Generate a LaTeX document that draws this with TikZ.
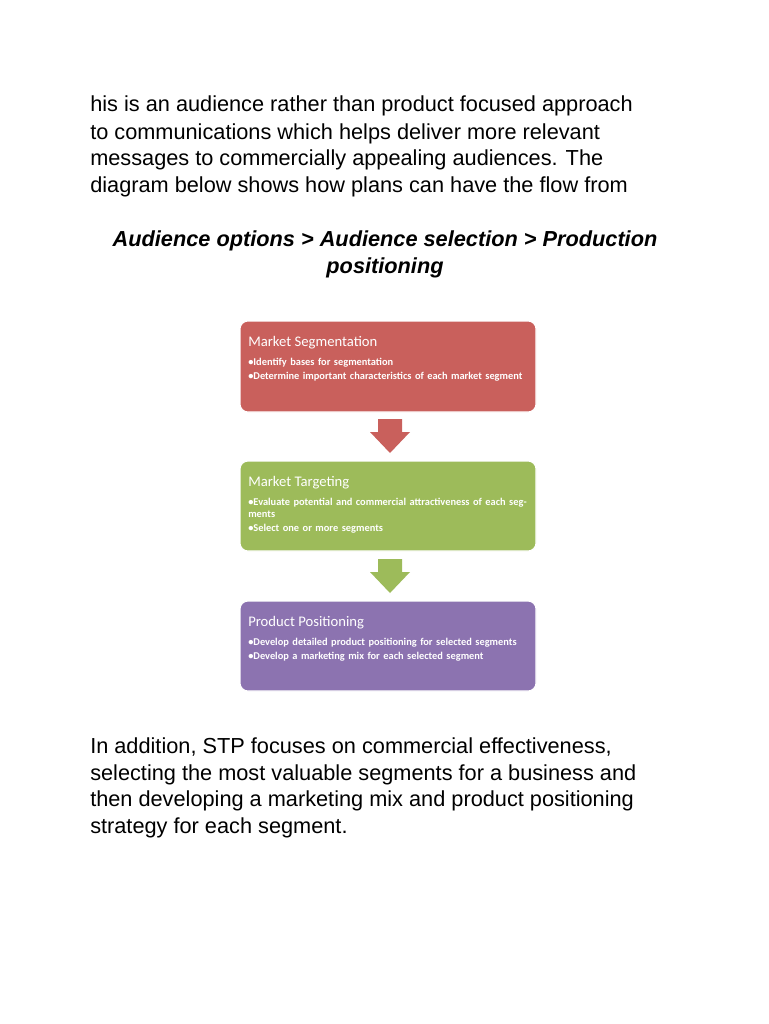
\documentclass[tikz,border=0pt]{standalone}
\usepackage{fontspec}
\setmainfont{Liberation Sans}
\newfontfamily\calfont{Carlito}
\definecolor{segred}{HTML}{C9605C}
\definecolor{tgtgreen}{HTML}{9DBB5A}
\definecolor{pospurple}{HTML}{8C73B0}
\begin{document}
\begin{tikzpicture}[x=0.75pt,y=-0.75pt,
  para/.style={anchor=base west,inner sep=0,font=\fontsize{16.3}{20}\selectfont},
  head/.style={anchor=base,inner sep=0,font=\fontsize{16.3}{20}\selectfont\bfseries\itshape},
  box/.style={rounded corners=6pt,draw=white,line width=0.8pt},
  btitle/.style={anchor=base west,inner sep=0,text=white,font=\calfont\fontsize{11}{13}\selectfont},
  bitem/.style={anchor=north west,inner sep=0,text=white,align=left,text width=215pt,font=\calfont\bfseries\fontsize{7.8}{9.2}\selectfont}]
\useasboundingbox[fill=white] (0,0) rectangle (768,1024);
\node[para] (p1) at (90,112) {his is an audience rather than product focused approach};
\node[para] (p2) at (90,139) {to communications which helps deliver more relevant};
\node[para] (p3) at (90,165) {messages to commercially appealing audiences. The};
\node[para] (p4) at (90,192) {diagram below shows how plans can have the flow from};
\node[head] (h1) at (385,246) {Audience options > Audience selection > Production};
\node[head] (h2) at (385,273) {positioning};
% boxes
\fill[box,fill=segred] (240,321) rectangle (536,412);
\fill[box,fill=tgtgreen] (240,461) rectangle (536,551);
\fill[box,fill=pospurple] (240,601) rectangle (536,691);
\node[btitle] (t1) at (248,346) {Market Segmentation};
\node[bitem] (b1) at (248,358) {•Identify bases for segmentation\\[1pt]•Determine important characteristics of each market segment};
\node[btitle] (t2) at (248,486) {Market Targeting};
\node[bitem] (b2) at (248,498) {•Evaluate potential and commercial attractiveness of each segments\\[1pt]•Select one or more segments};
\node[btitle] (t3) at (248,626) {Product Positioning};
\node[bitem] (b3) at (248,638) {•Develop detailed product positioning for selected segments\\[1pt]•Develop a marketing mix for each selected segment};
% arrows
\fill[segred] (378,419) -- (402,419) -- (402,432) -- (410,432) -- (390,453) -- (370,432) -- (378,432) -- cycle;
\fill[tgtgreen] (378,559) -- (402,559) -- (402,572) -- (410,572) -- (390,593) -- (370,572) -- (378,572) -- cycle;
\node[para] (q1) at (90,753) {In addition, STP focuses on commercial effectiveness,};
\node[para] (q2) at (90,780) {selecting the most valuable segments for a business and};
\node[para] (q3) at (90,806) {then developing a marketing mix and product positioning};
\node[para] (q4) at (90,833) {strategy for each segment.};
\end{tikzpicture}
\end{document}
